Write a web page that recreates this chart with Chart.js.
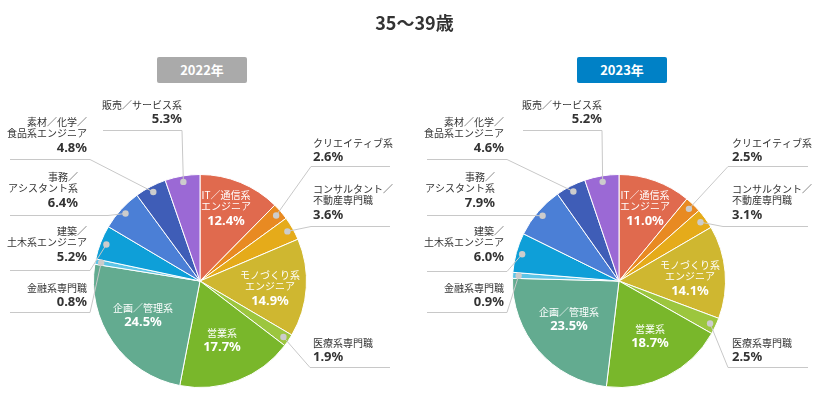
<!DOCTYPE html>
<html>
<head>
<meta charset="utf-8">
<script src="https://cdn.jsdelivr.net/npm/chart.js@4"></script>
<style>
  body { margin: 0; background: #fff; font-family: "Noto Sans CJK JP", "Noto Sans", sans-serif; }
  #wrap { position: relative; width: 829px; height: 397px; overflow: hidden; }
  canvas { position: absolute; left: 0; top: 0; }
  h1 { position: absolute; left: 0; top: 9px; width: 829px; margin: 0; text-align: center;
       font-size: 18px; font-weight: bold; color: #333; line-height: 26px; }
  .badge { position: absolute; top: 57px; width: 90px; height: 26px; line-height: 26px; border-radius: 2px;
           color: #fff; font-size: 13px; font-weight: bold; text-align: center; }
</style>
</head>
<body>
<div id="wrap">
  <canvas id="c2022" width="829" height="397"></canvas>
  <canvas id="c2023" width="829" height="397"></canvas>
  <h1>35〜39歳</h1>
  <div class="badge" style="left:157px;background:#aaaaaa;">2022年</div>
  <div class="badge" style="left:577px;background:#0081c6;">2023年</div>
</div>
<script>
'use strict';

// categories, clockwise from 12 o'clock
const categories = [
  'IT／通信系エンジニア', 'クリエイティブ系', 'コンサルタント／不動産専門職', 'モノづくり系エンジニア',
  '医療系専門職', '営業系', '企画／管理系', '金融系専門職',
  '建築／土木系エンジニア', '事務／アシスタント系', '素材／化学／食品系エンジニア', '販売／サービス系'
];
const labelLines = [
  ['IT／通信系', 'エンジニア'], ['クリエイティブ系'], ['コンサルタント／', '不動産専門職'], ['モノづくり系', 'エンジニア'],
  ['医療系専門職'], ['営業系'], ['企画／管理系'], ['金融系専門職'],
  ['建築／', '土木系エンジニア'], ['事務／', 'アシスタント系'], ['素材／化学／', '食品系エンジニア'], ['販売／サービス系']
];
const values2022 = [12.4, 2.6, 3.6, 14.9, 1.9, 17.7, 24.5, 0.8, 5.2, 6.4, 4.8, 5.3];
const values2023 = [11.0, 2.5, 3.1, 14.1, 2.5, 18.7, 23.5, 0.9, 6.0, 7.9, 4.6, 5.2];

const colors = [
  '#e06a4e', '#e88a22', '#e5ab1a', '#cfb730', '#9cc63e', '#79b72b',
  '#63ab90', '#5ec5e6', '#0e9fd8', '#4b7fd6', '#3f5db7', '#9b69d5'
];

const FONT = '"Noto Sans CJK JP", "Noto Sans", sans-serif';

function drawLines(ctx, idx, value, x, y, align, color) {
  ctx.fillStyle = color;
  ctx.textAlign = align;
  ctx.textBaseline = 'middle';
  let yy = y;
  ctx.font = '10px ' + FONT;
  labelLines[idx].forEach((t, i) => {
    if (i > 0) yy += 11.5;
    ctx.fillText(t, x, yy);
  });
  yy += 14.5;
  ctx.font = 'bold 13px "Noto Sans", ' + FONT;
  ctx.fillText(value.toFixed(1) + '%', x, yy);
}

const calloutPlugin = {
  id: 'callouts',
  afterDatasetsDraw(chart, args, opts) {
    const ctx = chart.ctx;
    const meta = chart.getDatasetMeta(0);
    const vals = chart.data.datasets[0].data;
    ctx.save();
    opts.outside.forEach((o) => {
      const arc = meta.data[o.i];
      const p = arc.getProps(['x', 'y', 'startAngle', 'endAngle', 'outerRadius'], true);
      const mid = (p.startAngle + p.endAngle) / 2;
      const r = p.outerRadius - 6;
      const dx = p.x + Math.cos(mid) * r;
      const dy = p.y + Math.sin(mid) * r;
      ctx.strokeStyle = '#c8c8c8';
      ctx.lineWidth = 1;
      ctx.beginPath();
      ctx.moveTo(o.path[0][0], o.path[0][1] + 0.5);
      ctx.lineTo(o.path[1][0], o.path[1][1] + 0.5);
      ctx.lineTo(dx, dy);
      ctx.stroke();
      ctx.fillStyle = '#cccccc';
      ctx.beginPath();
      ctx.arc(dx, dy, 3.2, 0, Math.PI * 2);
      ctx.fill();
      drawLines(ctx, o.i, vals[o.i], o.x, o.y, o.align, '#333333');
    });
    opts.inside.forEach((o) => {
      drawLines(ctx, o.i, vals[o.i], o.x, o.y, 'center', '#ffffff');
    });
    ctx.restore();
  }
};

function makePie(id, values, padding, outside, inside) {
  return new Chart(document.getElementById(id), {
    type: 'pie',
    data: {
      labels: categories,
      datasets: [{
        data: values,
        backgroundColor: colors,
        borderColor: '#ffffff',
        borderWidth: 1
      }]
    },
    options: {
      responsive: false,
      animation: false,
      devicePixelRatio: 1,
      events: [],
      layout: { padding: padding },
      plugins: {
        legend: { display: false },
        tooltip: { enabled: false },
        title: { display: false },
        callouts: { outside: outside, inside: inside }
      }
    },
    plugins: [calloutPlugin]
  });
}

makePie('c2022', values2022,
  { left: 93, right: 522, top: 174, bottom: 9 },
  [
    { i: 11, x: 182, y: 105, align: 'right', path: [[103, 130], [182, 130]] },
    { i: 10, x: 87, y: 122, align: 'right', path: [[10, 159], [90, 159]] },
    { i: 9, x: 78, y: 177, align: 'right', path: [[10, 215], [108, 215]] },
    { i: 8, x: 87, y: 231, align: 'right', path: [[10, 270], [90, 270]] },
    { i: 7, x: 87, y: 288, align: 'right', path: [[10, 312], [90, 312]] },
    { i: 1, x: 313, y: 143, align: 'left', path: [[390, 166], [311, 166]] },
    { i: 2, x: 313, y: 189, align: 'left', path: [[390, 226], [311, 226]] },
    { i: 4, x: 313, y: 343, align: 'left', path: [[390, 367], [310, 367]] }
  ],
  [
    { i: 0, x: 226, y: 195 },
    { i: 3, x: 270, y: 275 },
    { i: 5, x: 222, y: 333 },
    { i: 6, x: 143, y: 308 }
  ]);

makePie('c2023', values2023,
  { left: 512, right: 103, top: 174, bottom: 9 },
  [
    { i: 11, x: 602, y: 105, align: 'right', path: [[523, 130], [602, 130]] },
    { i: 10, x: 504, y: 122, align: 'right', path: [[427, 159], [507, 159]] },
    { i: 9, x: 495, y: 177, align: 'right', path: [[427, 215], [527, 215]] },
    { i: 8, x: 504, y: 231, align: 'right', path: [[427, 271], [507, 271]] },
    { i: 7, x: 504, y: 288, align: 'right', path: [[427, 312], [507, 312]] },
    { i: 1, x: 732, y: 143, align: 'left', path: [[808, 166], [728, 166]] },
    { i: 2, x: 732, y: 189, align: 'left', path: [[808, 226], [723, 226]] },
    { i: 4, x: 732, y: 343, align: 'left', path: [[808, 367], [728, 367]] }
  ],
  [
    { i: 0, x: 645, y: 195 },
    { i: 3, x: 690, y: 265 },
    { i: 5, x: 650, y: 329 },
    { i: 6, x: 569, y: 312 }
  ]);
</script>
</body>
</html>
